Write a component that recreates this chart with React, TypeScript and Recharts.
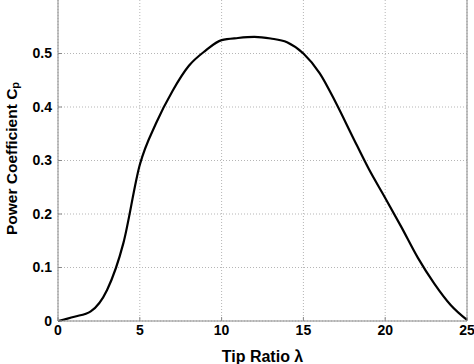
import {
  CartesianGrid,
  Label,
  Line,
  LineChart,
  ReferenceLine,
  XAxis,
  YAxis,
} from "recharts";

const tipRatio = [
  0, 1, 2, 3, 4, 5, 6, 7, 8, 9, 10, 11, 12, 13, 14, 15, 16, 17, 18, 19, 20, 21,
  22, 23, 24, 25,
];
const powerCoeff = [
  0, 0.008, 0.018, 0.058, 0.146, 0.292, 0.37, 0.43, 0.477, 0.505, 0.525, 0.529,
  0.531, 0.528, 0.521, 0.5, 0.463, 0.407, 0.345, 0.284, 0.23, 0.175, 0.118,
  0.07, 0.03, 0.002,
];
const xTicks = [0, 5, 10, 15, 20, 25];
const yTicks = [0, 0.1, 0.2, 0.3, 0.4, 0.5];

const data = tipRatio.map((l, i) => ({ l, cp: powerCoeff[i] }));

const font = "'Liberation Sans', Arial, sans-serif";
const axisGray = "#8a8a8a";

const YLabel = ({ viewBox }: any) => {
  const cx = 11;
  const cy = viewBox.y + viewBox.height / 2 - 2;
  return (
    <text
      x={cx}
      y={cy}
      transform={`rotate(-90 ${cx} ${cy})`}
      textAnchor="middle"
      dominantBaseline="central"
      fontFamily={font}
      fontWeight="bold"
      fontSize={15.5}
      fill="#000"
    >
      Power Coefficient C
      <tspan fontSize={11} dy={4}>
        p
      </tspan>
    </text>
  );
};

const App = () => {
  return (
    <div style={{ position: "absolute", left: 0, top: 0, background: "#fff" }}>
      <LineChart
        width={474}
        height={364}
        data={data}
        margin={{ top: 0, right: 7, bottom: 0, left: 0 }}
      >
        <CartesianGrid
          stroke="#b5b5b5"
          strokeDasharray="1 2"
          horizontalValues={yTicks}
          verticalValues={xTicks}
        />
        <XAxis
          dataKey="l"
          type="number"
          domain={[0, 25]}
          ticks={xTicks}
          height={43}
          stroke={axisGray}
          tickSize={4}
          tickLine={{ stroke: axisGray, transform: "translate(0,-4)" }}
          tick={{ fill: "#000", fontFamily: font, fontWeight: "bold", fontSize: 14 }}
          tickMargin={0}
        >
          <Label
            value="Tip Ratio λ"
            position="insideBottom"
            offset={2}
            fill="#000"
            fontFamily={font}
            fontWeight="bold"
            fontSize={16}
          />
        </XAxis>
        <YAxis
          type="number"
          domain={[0, 0.6]}
          ticks={yTicks}
          width={58}
          stroke={axisGray}
          tickSize={4}
          tickLine={{ stroke: axisGray, transform: "translate(4,0)" }}
          tick={{ fill: "#000", fontFamily: font, fontWeight: "bold", fontSize: 14 }}
          tickMargin={2}
          tickFormatter={(v: number) => (v === 0 ? "0" : String(v))}
        >
          <Label content={YLabel} />
        </YAxis>
        <ReferenceLine x={25} stroke={axisGray} ifOverflow="visible" />
        <Line
          dataKey="cp"
          type="monotone"
          stroke="#000"
          strokeWidth={2.2}
          dot={false}
          isAnimationActive={false}
        />
      </LineChart>
    </div>
  );
};

export default App;
